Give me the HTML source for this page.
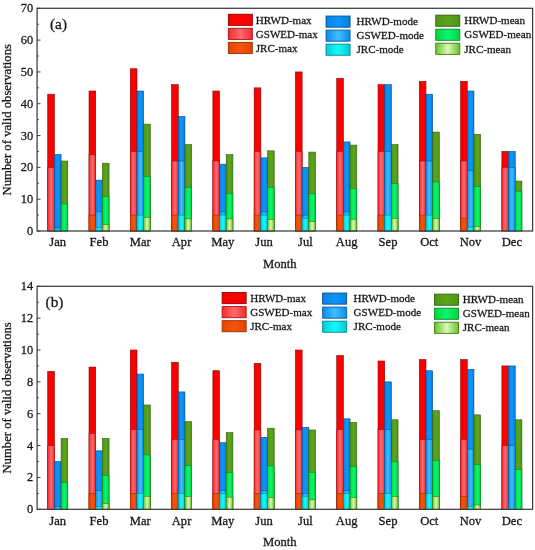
<!DOCTYPE html>
<html><head><meta charset="utf-8"><title>Number of valid observations by month</title>
<style>
html,body{margin:0;padding:0;background:#fff;}
svg{display:block;font-family:"Liberation Serif","Times New Roman",serif;}
text{fill:#161616;stroke:#161616;stroke-width:0.27px;}
</style></head><body>
<svg width="535" height="550" viewBox="0 0 535 550">
<rect x="0" y="0" width="535" height="550" fill="#ffffff"/>
<defs>
<linearGradient id="c0" x1="0" x2="1" y1="0" y2="0"><stop offset="0" stop-color="#f80000"/><stop offset="0.5" stop-color="#ff0000"/><stop offset="1" stop-color="#f80000"/></linearGradient>
<linearGradient id="c1" x1="0" x2="1" y1="0" y2="0"><stop offset="0" stop-color="#f62a2a"/><stop offset="0.5" stop-color="#ff6a70"/><stop offset="1" stop-color="#f62a2a"/></linearGradient>
<linearGradient id="c2" x1="0" x2="1" y1="0" y2="0"><stop offset="0" stop-color="#e44400"/><stop offset="0.5" stop-color="#f4540c"/><stop offset="1" stop-color="#e44400"/></linearGradient>
<linearGradient id="c3" x1="0" x2="1" y1="0" y2="0"><stop offset="0" stop-color="#0880e4"/><stop offset="0.5" stop-color="#0c98f8"/><stop offset="1" stop-color="#0880e4"/></linearGradient>
<linearGradient id="c4" x1="0" x2="1" y1="0" y2="0"><stop offset="0" stop-color="#0e8cea"/><stop offset="0.5" stop-color="#3cc0ff"/><stop offset="1" stop-color="#0e8cea"/></linearGradient>
<linearGradient id="c5" x1="0" x2="1" y1="0" y2="0"><stop offset="0" stop-color="#00ccd4"/><stop offset="0.5" stop-color="#18f8ff"/><stop offset="1" stop-color="#00ccd4"/></linearGradient>
<linearGradient id="c6" x1="0" x2="1" y1="0" y2="0"><stop offset="0" stop-color="#4e9414"/><stop offset="0.5" stop-color="#5ca61a"/><stop offset="1" stop-color="#4e9414"/></linearGradient>
<linearGradient id="c7" x1="0" x2="1" y1="0" y2="0"><stop offset="0" stop-color="#08d43c"/><stop offset="0.5" stop-color="#08f870"/><stop offset="1" stop-color="#08d43c"/></linearGradient>
<linearGradient id="c8" x1="0" x2="1" y1="0" y2="0"><stop offset="0" stop-color="#68c428"/><stop offset="0.5" stop-color="#dcf8b8"/><stop offset="1" stop-color="#68c428"/></linearGradient>
</defs>
<g>
<rect x="47.73" y="94.20" width="6.68" height="136.80" fill="url(#c0)" stroke="#8c0000" stroke-width="0.6"/>
<rect x="47.73" y="167.37" width="6.68" height="63.63" fill="url(#c1)" stroke="#a81010" stroke-width="0.6"/>
<rect x="54.41" y="154.65" width="6.68" height="76.35" fill="url(#c3)" stroke="#084a94" stroke-width="0.6"/>
<rect x="54.41" y="227.50" width="6.68" height="3.50" fill="url(#c4)" stroke="#0c589c" stroke-width="0.6"/>
<rect x="54.41" y="229.09" width="6.68" height="1.91" fill="url(#c5)" stroke="#008890" stroke-width="0.6"/>
<rect x="61.09" y="161.01" width="6.68" height="69.99" fill="url(#c6)" stroke="#30600c" stroke-width="0.6"/>
<rect x="61.09" y="203.96" width="6.68" height="27.04" fill="url(#c7)" stroke="#0c8828" stroke-width="0.6"/>
<rect x="89.02" y="91.02" width="6.68" height="139.98" fill="url(#c0)" stroke="#8c0000" stroke-width="0.6"/>
<rect x="89.02" y="154.65" width="6.68" height="76.35" fill="url(#c1)" stroke="#a81010" stroke-width="0.6"/>
<rect x="89.02" y="215.09" width="6.68" height="15.91" fill="url(#c2)" stroke="#943000" stroke-width="0.6"/>
<rect x="95.69" y="180.10" width="6.68" height="50.90" fill="url(#c3)" stroke="#084a94" stroke-width="0.6"/>
<rect x="95.69" y="211.91" width="6.68" height="19.09" fill="url(#c4)" stroke="#0c589c" stroke-width="0.6"/>
<rect x="95.69" y="227.82" width="6.68" height="3.18" fill="url(#c5)" stroke="#008890" stroke-width="0.6"/>
<rect x="102.38" y="163.24" width="6.68" height="67.76" fill="url(#c6)" stroke="#30600c" stroke-width="0.6"/>
<rect x="102.38" y="196.64" width="6.68" height="34.36" fill="url(#c7)" stroke="#0c8828" stroke-width="0.6"/>
<rect x="102.38" y="224.64" width="6.68" height="6.36" fill="url(#c8)" stroke="#3c7c10" stroke-width="0.6"/>
<rect x="130.30" y="68.75" width="6.68" height="162.25" fill="url(#c0)" stroke="#8c0000" stroke-width="0.6"/>
<rect x="130.30" y="151.46" width="6.68" height="79.54" fill="url(#c1)" stroke="#a81010" stroke-width="0.6"/>
<rect x="130.30" y="215.09" width="6.68" height="15.91" fill="url(#c2)" stroke="#943000" stroke-width="0.6"/>
<rect x="136.98" y="91.02" width="6.68" height="139.98" fill="url(#c3)" stroke="#084a94" stroke-width="0.6"/>
<rect x="136.98" y="151.46" width="6.68" height="79.54" fill="url(#c4)" stroke="#0c589c" stroke-width="0.6"/>
<rect x="136.98" y="215.09" width="6.68" height="15.91" fill="url(#c5)" stroke="#008890" stroke-width="0.6"/>
<rect x="143.66" y="124.10" width="6.68" height="106.90" fill="url(#c6)" stroke="#30600c" stroke-width="0.6"/>
<rect x="143.66" y="176.60" width="6.68" height="54.40" fill="url(#c7)" stroke="#0c8828" stroke-width="0.6"/>
<rect x="143.66" y="217.64" width="6.68" height="13.36" fill="url(#c8)" stroke="#3c7c10" stroke-width="0.6"/>
<rect x="171.58" y="84.65" width="6.68" height="146.35" fill="url(#c0)" stroke="#8c0000" stroke-width="0.6"/>
<rect x="171.58" y="161.01" width="6.68" height="69.99" fill="url(#c1)" stroke="#a81010" stroke-width="0.6"/>
<rect x="171.58" y="215.09" width="6.68" height="15.91" fill="url(#c2)" stroke="#943000" stroke-width="0.6"/>
<rect x="178.26" y="116.47" width="6.68" height="114.53" fill="url(#c3)" stroke="#084a94" stroke-width="0.6"/>
<rect x="178.26" y="161.01" width="6.68" height="69.99" fill="url(#c4)" stroke="#0c589c" stroke-width="0.6"/>
<rect x="178.26" y="215.09" width="6.68" height="15.91" fill="url(#c5)" stroke="#008890" stroke-width="0.6"/>
<rect x="184.94" y="144.47" width="6.68" height="86.53" fill="url(#c6)" stroke="#30600c" stroke-width="0.6"/>
<rect x="184.94" y="187.41" width="6.68" height="43.59" fill="url(#c7)" stroke="#0c8828" stroke-width="0.6"/>
<rect x="184.94" y="218.91" width="6.68" height="12.09" fill="url(#c8)" stroke="#3c7c10" stroke-width="0.6"/>
<rect x="212.87" y="91.02" width="6.68" height="139.98" fill="url(#c0)" stroke="#8c0000" stroke-width="0.6"/>
<rect x="212.87" y="161.01" width="6.68" height="69.99" fill="url(#c1)" stroke="#a81010" stroke-width="0.6"/>
<rect x="212.87" y="215.09" width="6.68" height="15.91" fill="url(#c2)" stroke="#943000" stroke-width="0.6"/>
<rect x="219.55" y="164.19" width="6.68" height="66.81" fill="url(#c3)" stroke="#084a94" stroke-width="0.6"/>
<rect x="219.55" y="211.91" width="6.68" height="19.09" fill="url(#c4)" stroke="#0c589c" stroke-width="0.6"/>
<rect x="219.55" y="215.09" width="6.68" height="15.91" fill="url(#c5)" stroke="#008890" stroke-width="0.6"/>
<rect x="226.23" y="154.65" width="6.68" height="76.35" fill="url(#c6)" stroke="#30600c" stroke-width="0.6"/>
<rect x="226.23" y="193.78" width="6.68" height="37.22" fill="url(#c7)" stroke="#0c8828" stroke-width="0.6"/>
<rect x="226.23" y="218.91" width="6.68" height="12.09" fill="url(#c8)" stroke="#3c7c10" stroke-width="0.6"/>
<rect x="254.15" y="87.84" width="6.68" height="143.16" fill="url(#c0)" stroke="#8c0000" stroke-width="0.6"/>
<rect x="254.15" y="151.46" width="6.68" height="79.54" fill="url(#c1)" stroke="#a81010" stroke-width="0.6"/>
<rect x="254.15" y="215.09" width="6.68" height="15.91" fill="url(#c2)" stroke="#943000" stroke-width="0.6"/>
<rect x="260.83" y="157.83" width="6.68" height="73.17" fill="url(#c3)" stroke="#084a94" stroke-width="0.6"/>
<rect x="260.83" y="211.91" width="6.68" height="19.09" fill="url(#c4)" stroke="#0c589c" stroke-width="0.6"/>
<rect x="260.83" y="215.09" width="6.68" height="15.91" fill="url(#c5)" stroke="#008890" stroke-width="0.6"/>
<rect x="267.51" y="150.83" width="6.68" height="80.17" fill="url(#c6)" stroke="#30600c" stroke-width="0.6"/>
<rect x="267.51" y="187.41" width="6.68" height="43.59" fill="url(#c7)" stroke="#0c8828" stroke-width="0.6"/>
<rect x="267.51" y="219.55" width="6.68" height="11.45" fill="url(#c8)" stroke="#3c7c10" stroke-width="0.6"/>
<rect x="295.44" y="71.93" width="6.68" height="159.07" fill="url(#c0)" stroke="#8c0000" stroke-width="0.6"/>
<rect x="295.44" y="151.46" width="6.68" height="79.54" fill="url(#c1)" stroke="#a81010" stroke-width="0.6"/>
<rect x="295.44" y="215.09" width="6.68" height="15.91" fill="url(#c2)" stroke="#943000" stroke-width="0.6"/>
<rect x="302.12" y="167.37" width="6.68" height="63.63" fill="url(#c3)" stroke="#084a94" stroke-width="0.6"/>
<rect x="302.12" y="215.09" width="6.68" height="15.91" fill="url(#c4)" stroke="#0c589c" stroke-width="0.6"/>
<rect x="302.12" y="218.27" width="6.68" height="12.73" fill="url(#c5)" stroke="#008890" stroke-width="0.6"/>
<rect x="308.80" y="152.10" width="6.68" height="78.90" fill="url(#c6)" stroke="#30600c" stroke-width="0.6"/>
<rect x="308.80" y="193.78" width="6.68" height="37.22" fill="url(#c7)" stroke="#0c8828" stroke-width="0.6"/>
<rect x="308.80" y="221.46" width="6.68" height="9.54" fill="url(#c8)" stroke="#3c7c10" stroke-width="0.6"/>
<rect x="336.73" y="78.29" width="6.68" height="152.71" fill="url(#c0)" stroke="#8c0000" stroke-width="0.6"/>
<rect x="336.73" y="151.46" width="6.68" height="79.54" fill="url(#c1)" stroke="#a81010" stroke-width="0.6"/>
<rect x="336.73" y="215.09" width="6.68" height="15.91" fill="url(#c2)" stroke="#943000" stroke-width="0.6"/>
<rect x="343.41" y="141.92" width="6.68" height="89.08" fill="url(#c3)" stroke="#084a94" stroke-width="0.6"/>
<rect x="343.41" y="211.91" width="6.68" height="19.09" fill="url(#c4)" stroke="#0c589c" stroke-width="0.6"/>
<rect x="343.41" y="215.09" width="6.68" height="15.91" fill="url(#c5)" stroke="#008890" stroke-width="0.6"/>
<rect x="350.09" y="145.10" width="6.68" height="85.90" fill="url(#c6)" stroke="#30600c" stroke-width="0.6"/>
<rect x="350.09" y="188.37" width="6.68" height="42.63" fill="url(#c7)" stroke="#0c8828" stroke-width="0.6"/>
<rect x="350.09" y="219.23" width="6.68" height="11.77" fill="url(#c8)" stroke="#3c7c10" stroke-width="0.6"/>
<rect x="378.01" y="84.65" width="6.68" height="146.35" fill="url(#c0)" stroke="#8c0000" stroke-width="0.6"/>
<rect x="378.01" y="151.46" width="6.68" height="79.54" fill="url(#c1)" stroke="#a81010" stroke-width="0.6"/>
<rect x="378.01" y="215.09" width="6.68" height="15.91" fill="url(#c2)" stroke="#943000" stroke-width="0.6"/>
<rect x="384.69" y="84.65" width="6.68" height="146.35" fill="url(#c3)" stroke="#084a94" stroke-width="0.6"/>
<rect x="384.69" y="151.46" width="6.68" height="79.54" fill="url(#c4)" stroke="#0c589c" stroke-width="0.6"/>
<rect x="384.69" y="215.09" width="6.68" height="15.91" fill="url(#c5)" stroke="#008890" stroke-width="0.6"/>
<rect x="391.37" y="144.47" width="6.68" height="86.53" fill="url(#c6)" stroke="#30600c" stroke-width="0.6"/>
<rect x="391.37" y="183.60" width="6.68" height="47.40" fill="url(#c7)" stroke="#0c8828" stroke-width="0.6"/>
<rect x="391.37" y="218.27" width="6.68" height="12.73" fill="url(#c8)" stroke="#3c7c10" stroke-width="0.6"/>
<rect x="419.29" y="81.47" width="6.68" height="149.53" fill="url(#c0)" stroke="#8c0000" stroke-width="0.6"/>
<rect x="419.29" y="161.01" width="6.68" height="69.99" fill="url(#c1)" stroke="#a81010" stroke-width="0.6"/>
<rect x="419.29" y="215.09" width="6.68" height="15.91" fill="url(#c2)" stroke="#943000" stroke-width="0.6"/>
<rect x="425.97" y="94.20" width="6.68" height="136.80" fill="url(#c3)" stroke="#084a94" stroke-width="0.6"/>
<rect x="425.97" y="161.01" width="6.68" height="69.99" fill="url(#c4)" stroke="#0c589c" stroke-width="0.6"/>
<rect x="425.97" y="215.09" width="6.68" height="15.91" fill="url(#c5)" stroke="#008890" stroke-width="0.6"/>
<rect x="432.65" y="132.06" width="6.68" height="98.94" fill="url(#c6)" stroke="#30600c" stroke-width="0.6"/>
<rect x="432.65" y="182.01" width="6.68" height="48.99" fill="url(#c7)" stroke="#0c8828" stroke-width="0.6"/>
<rect x="432.65" y="218.27" width="6.68" height="12.73" fill="url(#c8)" stroke="#3c7c10" stroke-width="0.6"/>
<rect x="460.58" y="81.47" width="6.68" height="149.53" fill="url(#c0)" stroke="#8c0000" stroke-width="0.6"/>
<rect x="460.58" y="161.01" width="6.68" height="69.99" fill="url(#c1)" stroke="#a81010" stroke-width="0.6"/>
<rect x="460.58" y="218.27" width="6.68" height="12.73" fill="url(#c2)" stroke="#943000" stroke-width="0.6"/>
<rect x="467.26" y="91.02" width="6.68" height="139.98" fill="url(#c3)" stroke="#084a94" stroke-width="0.6"/>
<rect x="467.26" y="170.55" width="6.68" height="60.45" fill="url(#c4)" stroke="#0c589c" stroke-width="0.6"/>
<rect x="467.26" y="227.18" width="6.68" height="3.82" fill="url(#c5)" stroke="#008890" stroke-width="0.6"/>
<rect x="473.94" y="134.28" width="6.68" height="96.72" fill="url(#c6)" stroke="#30600c" stroke-width="0.6"/>
<rect x="473.94" y="186.46" width="6.68" height="44.54" fill="url(#c7)" stroke="#0c8828" stroke-width="0.6"/>
<rect x="473.94" y="226.55" width="6.68" height="4.45" fill="url(#c8)" stroke="#3c7c10" stroke-width="0.6"/>
<rect x="501.87" y="151.46" width="6.68" height="79.54" fill="url(#c0)" stroke="#8c0000" stroke-width="0.6"/>
<rect x="501.87" y="167.37" width="6.68" height="63.63" fill="url(#c1)" stroke="#a81010" stroke-width="0.6"/>
<rect x="508.55" y="151.46" width="6.68" height="79.54" fill="url(#c3)" stroke="#084a94" stroke-width="0.6"/>
<rect x="508.55" y="167.37" width="6.68" height="63.63" fill="url(#c4)" stroke="#0c589c" stroke-width="0.6"/>
<rect x="515.23" y="181.05" width="6.68" height="49.95" fill="url(#c6)" stroke="#30600c" stroke-width="0.6"/>
<rect x="515.23" y="191.23" width="6.68" height="39.77" fill="url(#c7)" stroke="#0c8828" stroke-width="0.6"/>
<rect x="37.1" y="8.3" width="495.5" height="222.7" fill="none" stroke="#3c3c3c" stroke-width="1.25"/>
<line x1="37.1" x2="40.5" y1="231.00" y2="231.00" stroke="#333" stroke-width="0.95"/>
<text transform="translate(33.2,235.00) scale(1,1.04)" text-anchor="end" font-size="12.4">0</text>
<line x1="37.1" x2="40.5" y1="199.19" y2="199.19" stroke="#333" stroke-width="0.95"/>
<text transform="translate(33.2,203.19) scale(1,1.04)" text-anchor="end" font-size="12.4">10</text>
<line x1="37.1" x2="40.5" y1="167.37" y2="167.37" stroke="#333" stroke-width="0.95"/>
<text transform="translate(33.2,171.37) scale(1,1.04)" text-anchor="end" font-size="12.4">20</text>
<line x1="37.1" x2="40.5" y1="135.56" y2="135.56" stroke="#333" stroke-width="0.95"/>
<text transform="translate(33.2,139.56) scale(1,1.04)" text-anchor="end" font-size="12.4">30</text>
<line x1="37.1" x2="40.5" y1="103.74" y2="103.74" stroke="#333" stroke-width="0.95"/>
<text transform="translate(33.2,107.74) scale(1,1.04)" text-anchor="end" font-size="12.4">40</text>
<line x1="37.1" x2="40.5" y1="71.93" y2="71.93" stroke="#333" stroke-width="0.95"/>
<text transform="translate(33.2,75.93) scale(1,1.04)" text-anchor="end" font-size="12.4">50</text>
<line x1="37.1" x2="40.5" y1="40.11" y2="40.11" stroke="#333" stroke-width="0.95"/>
<text transform="translate(33.2,44.11) scale(1,1.04)" text-anchor="end" font-size="12.4">60</text>
<line x1="37.1" x2="40.5" y1="8.30" y2="8.30" stroke="#333" stroke-width="0.95"/>
<text transform="translate(33.2,12.30) scale(1,1.04)" text-anchor="end" font-size="12.4">70</text>
<line x1="37.1" x2="39.0" y1="215.09" y2="215.09" stroke="#333" stroke-width="0.85"/>
<line x1="37.1" x2="39.0" y1="183.28" y2="183.28" stroke="#333" stroke-width="0.85"/>
<line x1="37.1" x2="39.0" y1="151.46" y2="151.46" stroke="#333" stroke-width="0.85"/>
<line x1="37.1" x2="39.0" y1="119.65" y2="119.65" stroke="#333" stroke-width="0.85"/>
<line x1="37.1" x2="39.0" y1="87.84" y2="87.84" stroke="#333" stroke-width="0.85"/>
<line x1="37.1" x2="39.0" y1="56.02" y2="56.02" stroke="#333" stroke-width="0.85"/>
<line x1="37.1" x2="39.0" y1="24.21" y2="24.21" stroke="#333" stroke-width="0.85"/>
<text transform="translate(57.70,246.20) scale(1,1.06)" text-anchor="middle" font-size="12.6">Jan</text>
<text transform="translate(98.98,246.20) scale(1,1.06)" text-anchor="middle" font-size="12.6">Feb</text>
<text transform="translate(140.27,246.20) scale(1,1.06)" text-anchor="middle" font-size="12.6">Mar</text>
<text transform="translate(181.56,246.20) scale(1,1.06)" text-anchor="middle" font-size="12.6">Apr</text>
<text transform="translate(222.84,246.20) scale(1,1.06)" text-anchor="middle" font-size="12.6">May</text>
<text transform="translate(264.12,246.20) scale(1,1.06)" text-anchor="middle" font-size="12.6">Jun</text>
<text transform="translate(305.41,246.20) scale(1,1.06)" text-anchor="middle" font-size="12.6">Jul</text>
<text transform="translate(346.69,246.20) scale(1,1.06)" text-anchor="middle" font-size="12.6">Aug</text>
<text transform="translate(387.98,246.20) scale(1,1.06)" text-anchor="middle" font-size="12.6">Sep</text>
<text transform="translate(429.26,246.20) scale(1,1.06)" text-anchor="middle" font-size="12.6">Oct</text>
<text transform="translate(470.55,246.20) scale(1,1.06)" text-anchor="middle" font-size="12.6">Nov</text>
<text transform="translate(511.83,246.20) scale(1,1.06)" text-anchor="middle" font-size="12.6">Dec</text>
<text transform="translate(279.8,268.00) scale(1,1.05)" text-anchor="middle" font-size="12.6">Month</text>
<text transform="translate(10.7,119.75) rotate(-90) scale(1,1.06)" text-anchor="middle" font-size="12.72">Number of valid observations</text>
<text x="50" y="28.60" font-size="15.3">(a)</text>
<rect x="228.35" y="14.25" width="24.0" height="11.1" fill="url(#c0)" stroke="#8c0000" stroke-width="0.9"/>
<text x="255.8" y="23.60" font-size="11.05">HRWD-max</text>
<rect x="228.35" y="28.30" width="24.0" height="11.1" fill="url(#c1)" stroke="#a81010" stroke-width="0.9"/>
<text x="255.8" y="37.65" font-size="11.05">GSWED-max</text>
<rect x="228.35" y="42.35" width="24.0" height="11.1" fill="url(#c2)" stroke="#943000" stroke-width="0.9"/>
<text x="255.8" y="51.70" font-size="11.05">JRC-max</text>
<rect x="326.05" y="16.05" width="24.0" height="11.1" fill="url(#c3)" stroke="#084a94" stroke-width="0.9"/>
<text x="356.5" y="25.10" font-size="11.05">HRWD-mode</text>
<rect x="326.05" y="30.10" width="24.0" height="11.1" fill="url(#c4)" stroke="#0c589c" stroke-width="0.9"/>
<text x="356.5" y="39.15" font-size="11.05">GSWED-mode</text>
<rect x="326.05" y="44.15" width="24.0" height="11.1" fill="url(#c5)" stroke="#008890" stroke-width="0.9"/>
<text x="356.5" y="53.20" font-size="11.05">JRC-mode</text>
<rect x="435.75" y="15.15" width="24.0" height="11.1" fill="url(#c6)" stroke="#30600c" stroke-width="0.9"/>
<text x="464.3" y="24.40" font-size="11.05">HRWD-mean</text>
<rect x="435.75" y="29.20" width="24.0" height="11.1" fill="url(#c7)" stroke="#0c8828" stroke-width="0.9"/>
<text x="464.3" y="38.45" font-size="11.05">GSWED-mean</text>
<rect x="435.75" y="43.25" width="24.0" height="11.1" fill="url(#c8)" stroke="#3c7c10" stroke-width="0.9"/>
<text x="464.3" y="52.50" font-size="11.05">JRC-mean</text>
</g>
<g>
<rect x="47.73" y="371.36" width="6.68" height="137.94" fill="url(#c0)" stroke="#8c0000" stroke-width="0.6"/>
<rect x="47.73" y="445.59" width="6.68" height="63.71" fill="url(#c1)" stroke="#a81010" stroke-width="0.6"/>
<rect x="54.41" y="461.51" width="6.68" height="47.79" fill="url(#c3)" stroke="#084a94" stroke-width="0.6"/>
<rect x="54.41" y="506.59" width="6.68" height="2.71" fill="url(#c4)" stroke="#0c589c" stroke-width="0.6"/>
<rect x="61.09" y="438.42" width="6.68" height="70.88" fill="url(#c6)" stroke="#30600c" stroke-width="0.6"/>
<rect x="61.09" y="482.38" width="6.68" height="26.92" fill="url(#c7)" stroke="#0c8828" stroke-width="0.6"/>
<rect x="89.02" y="367.06" width="6.68" height="142.24" fill="url(#c0)" stroke="#8c0000" stroke-width="0.6"/>
<rect x="89.02" y="433.32" width="6.68" height="75.98" fill="url(#c1)" stroke="#a81010" stroke-width="0.6"/>
<rect x="89.02" y="493.37" width="6.68" height="15.93" fill="url(#c2)" stroke="#943000" stroke-width="0.6"/>
<rect x="95.69" y="450.84" width="6.68" height="58.46" fill="url(#c3)" stroke="#084a94" stroke-width="0.6"/>
<rect x="95.69" y="490.50" width="6.68" height="18.80" fill="url(#c4)" stroke="#0c589c" stroke-width="0.6"/>
<rect x="95.69" y="506.59" width="6.68" height="2.71" fill="url(#c5)" stroke="#008890" stroke-width="0.6"/>
<rect x="102.38" y="438.42" width="6.68" height="70.88" fill="url(#c6)" stroke="#30600c" stroke-width="0.6"/>
<rect x="102.38" y="475.37" width="6.68" height="33.93" fill="url(#c7)" stroke="#0c8828" stroke-width="0.6"/>
<rect x="102.38" y="503.57" width="6.68" height="5.73" fill="url(#c8)" stroke="#3c7c10" stroke-width="0.6"/>
<rect x="130.30" y="350.01" width="6.68" height="159.29" fill="url(#c0)" stroke="#8c0000" stroke-width="0.6"/>
<rect x="130.30" y="429.66" width="6.68" height="79.64" fill="url(#c1)" stroke="#a81010" stroke-width="0.6"/>
<rect x="130.30" y="493.37" width="6.68" height="15.93" fill="url(#c2)" stroke="#943000" stroke-width="0.6"/>
<rect x="136.98" y="374.07" width="6.68" height="135.23" fill="url(#c3)" stroke="#084a94" stroke-width="0.6"/>
<rect x="136.98" y="429.66" width="6.68" height="79.64" fill="url(#c4)" stroke="#0c589c" stroke-width="0.6"/>
<rect x="136.98" y="493.37" width="6.68" height="15.93" fill="url(#c5)" stroke="#008890" stroke-width="0.6"/>
<rect x="143.66" y="404.97" width="6.68" height="104.33" fill="url(#c6)" stroke="#30600c" stroke-width="0.6"/>
<rect x="143.66" y="454.82" width="6.68" height="54.48" fill="url(#c7)" stroke="#0c8828" stroke-width="0.6"/>
<rect x="143.66" y="496.24" width="6.68" height="13.06" fill="url(#c8)" stroke="#3c7c10" stroke-width="0.6"/>
<rect x="171.58" y="362.28" width="6.68" height="147.02" fill="url(#c0)" stroke="#8c0000" stroke-width="0.6"/>
<rect x="171.58" y="439.37" width="6.68" height="69.93" fill="url(#c1)" stroke="#a81010" stroke-width="0.6"/>
<rect x="171.58" y="493.37" width="6.68" height="15.93" fill="url(#c2)" stroke="#943000" stroke-width="0.6"/>
<rect x="178.26" y="391.91" width="6.68" height="117.39" fill="url(#c3)" stroke="#084a94" stroke-width="0.6"/>
<rect x="178.26" y="439.37" width="6.68" height="69.93" fill="url(#c4)" stroke="#0c589c" stroke-width="0.6"/>
<rect x="178.26" y="493.37" width="6.68" height="15.93" fill="url(#c5)" stroke="#008890" stroke-width="0.6"/>
<rect x="184.94" y="421.53" width="6.68" height="87.77" fill="url(#c6)" stroke="#30600c" stroke-width="0.6"/>
<rect x="184.94" y="465.66" width="6.68" height="43.64" fill="url(#c7)" stroke="#0c8828" stroke-width="0.6"/>
<rect x="184.94" y="496.56" width="6.68" height="12.74" fill="url(#c8)" stroke="#3c7c10" stroke-width="0.6"/>
<rect x="212.87" y="370.72" width="6.68" height="138.58" fill="url(#c0)" stroke="#8c0000" stroke-width="0.6"/>
<rect x="212.87" y="439.37" width="6.68" height="69.93" fill="url(#c1)" stroke="#a81010" stroke-width="0.6"/>
<rect x="212.87" y="493.37" width="6.68" height="15.93" fill="url(#c2)" stroke="#943000" stroke-width="0.6"/>
<rect x="219.55" y="442.72" width="6.68" height="66.58" fill="url(#c3)" stroke="#084a94" stroke-width="0.6"/>
<rect x="219.55" y="490.50" width="6.68" height="18.80" fill="url(#c4)" stroke="#0c589c" stroke-width="0.6"/>
<rect x="219.55" y="493.37" width="6.68" height="15.93" fill="url(#c5)" stroke="#008890" stroke-width="0.6"/>
<rect x="226.23" y="432.68" width="6.68" height="76.62" fill="url(#c6)" stroke="#30600c" stroke-width="0.6"/>
<rect x="226.23" y="472.35" width="6.68" height="36.95" fill="url(#c7)" stroke="#0c8828" stroke-width="0.6"/>
<rect x="226.23" y="497.19" width="6.68" height="12.11" fill="url(#c8)" stroke="#3c7c10" stroke-width="0.6"/>
<rect x="254.15" y="363.39" width="6.68" height="145.91" fill="url(#c0)" stroke="#8c0000" stroke-width="0.6"/>
<rect x="254.15" y="429.98" width="6.68" height="79.32" fill="url(#c1)" stroke="#a81010" stroke-width="0.6"/>
<rect x="254.15" y="493.37" width="6.68" height="15.93" fill="url(#c2)" stroke="#943000" stroke-width="0.6"/>
<rect x="260.83" y="437.30" width="6.68" height="72.00" fill="url(#c3)" stroke="#084a94" stroke-width="0.6"/>
<rect x="260.83" y="490.50" width="6.68" height="18.80" fill="url(#c4)" stroke="#0c589c" stroke-width="0.6"/>
<rect x="260.83" y="493.37" width="6.68" height="15.93" fill="url(#c5)" stroke="#008890" stroke-width="0.6"/>
<rect x="267.51" y="428.22" width="6.68" height="81.08" fill="url(#c6)" stroke="#30600c" stroke-width="0.6"/>
<rect x="267.51" y="465.97" width="6.68" height="43.33" fill="url(#c7)" stroke="#0c8828" stroke-width="0.6"/>
<rect x="267.51" y="497.51" width="6.68" height="11.79" fill="url(#c8)" stroke="#3c7c10" stroke-width="0.6"/>
<rect x="295.44" y="350.01" width="6.68" height="159.29" fill="url(#c0)" stroke="#8c0000" stroke-width="0.6"/>
<rect x="295.44" y="429.98" width="6.68" height="79.32" fill="url(#c1)" stroke="#a81010" stroke-width="0.6"/>
<rect x="295.44" y="493.37" width="6.68" height="15.93" fill="url(#c2)" stroke="#943000" stroke-width="0.6"/>
<rect x="302.12" y="427.27" width="6.68" height="82.03" fill="url(#c3)" stroke="#084a94" stroke-width="0.6"/>
<rect x="302.12" y="493.37" width="6.68" height="15.93" fill="url(#c4)" stroke="#0c589c" stroke-width="0.6"/>
<rect x="302.12" y="496.24" width="6.68" height="13.06" fill="url(#c5)" stroke="#008890" stroke-width="0.6"/>
<rect x="308.80" y="429.98" width="6.68" height="79.32" fill="url(#c6)" stroke="#30600c" stroke-width="0.6"/>
<rect x="308.80" y="472.35" width="6.68" height="36.95" fill="url(#c7)" stroke="#0c8828" stroke-width="0.6"/>
<rect x="308.80" y="499.90" width="6.68" height="9.40" fill="url(#c8)" stroke="#3c7c10" stroke-width="0.6"/>
<rect x="336.73" y="355.59" width="6.68" height="153.71" fill="url(#c0)" stroke="#8c0000" stroke-width="0.6"/>
<rect x="336.73" y="429.66" width="6.68" height="79.64" fill="url(#c1)" stroke="#a81010" stroke-width="0.6"/>
<rect x="336.73" y="493.37" width="6.68" height="15.93" fill="url(#c2)" stroke="#943000" stroke-width="0.6"/>
<rect x="343.41" y="418.83" width="6.68" height="90.47" fill="url(#c3)" stroke="#084a94" stroke-width="0.6"/>
<rect x="343.41" y="490.50" width="6.68" height="18.80" fill="url(#c4)" stroke="#0c589c" stroke-width="0.6"/>
<rect x="343.41" y="493.37" width="6.68" height="15.93" fill="url(#c5)" stroke="#008890" stroke-width="0.6"/>
<rect x="350.09" y="422.49" width="6.68" height="86.81" fill="url(#c6)" stroke="#30600c" stroke-width="0.6"/>
<rect x="350.09" y="466.61" width="6.68" height="42.69" fill="url(#c7)" stroke="#0c8828" stroke-width="0.6"/>
<rect x="350.09" y="497.51" width="6.68" height="11.79" fill="url(#c8)" stroke="#3c7c10" stroke-width="0.6"/>
<rect x="378.01" y="361.00" width="6.68" height="148.30" fill="url(#c0)" stroke="#8c0000" stroke-width="0.6"/>
<rect x="378.01" y="429.66" width="6.68" height="79.64" fill="url(#c1)" stroke="#a81010" stroke-width="0.6"/>
<rect x="378.01" y="493.37" width="6.68" height="15.93" fill="url(#c2)" stroke="#943000" stroke-width="0.6"/>
<rect x="384.69" y="381.87" width="6.68" height="127.43" fill="url(#c3)" stroke="#084a94" stroke-width="0.6"/>
<rect x="384.69" y="429.66" width="6.68" height="79.64" fill="url(#c4)" stroke="#0c589c" stroke-width="0.6"/>
<rect x="384.69" y="493.37" width="6.68" height="15.93" fill="url(#c5)" stroke="#008890" stroke-width="0.6"/>
<rect x="391.37" y="419.78" width="6.68" height="89.52" fill="url(#c6)" stroke="#30600c" stroke-width="0.6"/>
<rect x="391.37" y="461.83" width="6.68" height="47.47" fill="url(#c7)" stroke="#0c8828" stroke-width="0.6"/>
<rect x="391.37" y="496.56" width="6.68" height="12.74" fill="url(#c8)" stroke="#3c7c10" stroke-width="0.6"/>
<rect x="419.29" y="359.57" width="6.68" height="149.73" fill="url(#c0)" stroke="#8c0000" stroke-width="0.6"/>
<rect x="419.29" y="439.37" width="6.68" height="69.93" fill="url(#c1)" stroke="#a81010" stroke-width="0.6"/>
<rect x="419.29" y="493.37" width="6.68" height="15.93" fill="url(#c2)" stroke="#943000" stroke-width="0.6"/>
<rect x="425.97" y="370.72" width="6.68" height="138.58" fill="url(#c3)" stroke="#084a94" stroke-width="0.6"/>
<rect x="425.97" y="439.37" width="6.68" height="69.93" fill="url(#c4)" stroke="#0c589c" stroke-width="0.6"/>
<rect x="425.97" y="493.37" width="6.68" height="15.93" fill="url(#c5)" stroke="#008890" stroke-width="0.6"/>
<rect x="432.65" y="410.70" width="6.68" height="98.60" fill="url(#c6)" stroke="#30600c" stroke-width="0.6"/>
<rect x="432.65" y="460.56" width="6.68" height="48.74" fill="url(#c7)" stroke="#0c8828" stroke-width="0.6"/>
<rect x="432.65" y="496.56" width="6.68" height="12.74" fill="url(#c8)" stroke="#3c7c10" stroke-width="0.6"/>
<rect x="460.58" y="359.57" width="6.68" height="149.73" fill="url(#c0)" stroke="#8c0000" stroke-width="0.6"/>
<rect x="460.58" y="439.37" width="6.68" height="69.93" fill="url(#c1)" stroke="#a81010" stroke-width="0.6"/>
<rect x="460.58" y="496.56" width="6.68" height="12.74" fill="url(#c2)" stroke="#943000" stroke-width="0.6"/>
<rect x="467.26" y="369.45" width="6.68" height="139.85" fill="url(#c3)" stroke="#084a94" stroke-width="0.6"/>
<rect x="467.26" y="449.09" width="6.68" height="60.21" fill="url(#c4)" stroke="#0c589c" stroke-width="0.6"/>
<rect x="467.26" y="506.27" width="6.68" height="3.03" fill="url(#c5)" stroke="#008890" stroke-width="0.6"/>
<rect x="473.94" y="414.84" width="6.68" height="94.46" fill="url(#c6)" stroke="#30600c" stroke-width="0.6"/>
<rect x="473.94" y="464.54" width="6.68" height="44.76" fill="url(#c7)" stroke="#0c8828" stroke-width="0.6"/>
<rect x="473.94" y="505.00" width="6.68" height="4.30" fill="url(#c8)" stroke="#3c7c10" stroke-width="0.6"/>
<rect x="501.87" y="365.94" width="6.68" height="143.36" fill="url(#c0)" stroke="#8c0000" stroke-width="0.6"/>
<rect x="501.87" y="445.59" width="6.68" height="63.71" fill="url(#c1)" stroke="#a81010" stroke-width="0.6"/>
<rect x="508.55" y="365.94" width="6.68" height="143.36" fill="url(#c3)" stroke="#084a94" stroke-width="0.6"/>
<rect x="508.55" y="445.59" width="6.68" height="63.71" fill="url(#c4)" stroke="#0c589c" stroke-width="0.6"/>
<rect x="515.23" y="419.78" width="6.68" height="89.52" fill="url(#c6)" stroke="#30600c" stroke-width="0.6"/>
<rect x="515.23" y="469.64" width="6.68" height="39.66" fill="url(#c7)" stroke="#0c8828" stroke-width="0.6"/>
<rect x="37.1" y="286.3" width="495.5" height="223.0" fill="none" stroke="#3c3c3c" stroke-width="1.25"/>
<line x1="37.1" x2="40.5" y1="509.30" y2="509.30" stroke="#333" stroke-width="0.95"/>
<text transform="translate(33.2,513.30) scale(1,1.04)" text-anchor="end" font-size="12.4">0</text>
<line x1="37.1" x2="40.5" y1="477.44" y2="477.44" stroke="#333" stroke-width="0.95"/>
<text transform="translate(33.2,481.44) scale(1,1.04)" text-anchor="end" font-size="12.4">2</text>
<line x1="37.1" x2="40.5" y1="445.59" y2="445.59" stroke="#333" stroke-width="0.95"/>
<text transform="translate(33.2,449.59) scale(1,1.04)" text-anchor="end" font-size="12.4">4</text>
<line x1="37.1" x2="40.5" y1="413.73" y2="413.73" stroke="#333" stroke-width="0.95"/>
<text transform="translate(33.2,417.73) scale(1,1.04)" text-anchor="end" font-size="12.4">6</text>
<line x1="37.1" x2="40.5" y1="381.87" y2="381.87" stroke="#333" stroke-width="0.95"/>
<text transform="translate(33.2,385.87) scale(1,1.04)" text-anchor="end" font-size="12.4">8</text>
<line x1="37.1" x2="40.5" y1="350.01" y2="350.01" stroke="#333" stroke-width="0.95"/>
<text transform="translate(33.2,354.01) scale(1,1.04)" text-anchor="end" font-size="12.4">10</text>
<line x1="37.1" x2="40.5" y1="318.16" y2="318.16" stroke="#333" stroke-width="0.95"/>
<text transform="translate(33.2,322.16) scale(1,1.04)" text-anchor="end" font-size="12.4">12</text>
<line x1="37.1" x2="40.5" y1="286.30" y2="286.30" stroke="#333" stroke-width="0.95"/>
<text transform="translate(33.2,290.30) scale(1,1.04)" text-anchor="end" font-size="12.4">14</text>
<line x1="37.1" x2="39.0" y1="493.37" y2="493.37" stroke="#333" stroke-width="0.85"/>
<line x1="37.1" x2="39.0" y1="461.51" y2="461.51" stroke="#333" stroke-width="0.85"/>
<line x1="37.1" x2="39.0" y1="429.66" y2="429.66" stroke="#333" stroke-width="0.85"/>
<line x1="37.1" x2="39.0" y1="397.80" y2="397.80" stroke="#333" stroke-width="0.85"/>
<line x1="37.1" x2="39.0" y1="365.94" y2="365.94" stroke="#333" stroke-width="0.85"/>
<line x1="37.1" x2="39.0" y1="334.09" y2="334.09" stroke="#333" stroke-width="0.85"/>
<line x1="37.1" x2="39.0" y1="302.23" y2="302.23" stroke="#333" stroke-width="0.85"/>
<text transform="translate(57.70,524.50) scale(1,1.06)" text-anchor="middle" font-size="12.6">Jan</text>
<text transform="translate(98.98,524.50) scale(1,1.06)" text-anchor="middle" font-size="12.6">Feb</text>
<text transform="translate(140.27,524.50) scale(1,1.06)" text-anchor="middle" font-size="12.6">Mar</text>
<text transform="translate(181.56,524.50) scale(1,1.06)" text-anchor="middle" font-size="12.6">Apr</text>
<text transform="translate(222.84,524.50) scale(1,1.06)" text-anchor="middle" font-size="12.6">May</text>
<text transform="translate(264.12,524.50) scale(1,1.06)" text-anchor="middle" font-size="12.6">Jun</text>
<text transform="translate(305.41,524.50) scale(1,1.06)" text-anchor="middle" font-size="12.6">Jul</text>
<text transform="translate(346.69,524.50) scale(1,1.06)" text-anchor="middle" font-size="12.6">Aug</text>
<text transform="translate(387.98,524.50) scale(1,1.06)" text-anchor="middle" font-size="12.6">Sep</text>
<text transform="translate(429.26,524.50) scale(1,1.06)" text-anchor="middle" font-size="12.6">Oct</text>
<text transform="translate(470.55,524.50) scale(1,1.06)" text-anchor="middle" font-size="12.6">Nov</text>
<text transform="translate(511.83,524.50) scale(1,1.06)" text-anchor="middle" font-size="12.6">Dec</text>
<text transform="translate(279.8,546.30) scale(1,1.05)" text-anchor="middle" font-size="12.6">Month</text>
<text transform="translate(10.7,397.90) rotate(-90) scale(1,1.06)" text-anchor="middle" font-size="12.72">Number of valid observations</text>
<text x="45.6" y="306.60" font-size="15.3">(b)</text>
<rect x="222.15" y="292.55" width="24.0" height="11.1" fill="url(#c0)" stroke="#8c0000" stroke-width="0.9"/>
<text x="250.2" y="301.60" font-size="11.05">HRWD-max</text>
<rect x="222.15" y="306.60" width="24.0" height="11.1" fill="url(#c1)" stroke="#a81010" stroke-width="0.9"/>
<text x="250.2" y="315.65" font-size="11.05">GSWED-max</text>
<rect x="222.15" y="320.65" width="24.0" height="11.1" fill="url(#c2)" stroke="#943000" stroke-width="0.9"/>
<text x="250.2" y="329.70" font-size="11.05">JRC-max</text>
<rect x="322.65" y="293.05" width="24.0" height="11.1" fill="url(#c3)" stroke="#084a94" stroke-width="0.9"/>
<text x="353.6" y="301.70" font-size="11.05">HRWD-mode</text>
<rect x="322.65" y="307.10" width="24.0" height="11.1" fill="url(#c4)" stroke="#0c589c" stroke-width="0.9"/>
<text x="353.6" y="315.75" font-size="11.05">GSWED-mode</text>
<rect x="322.65" y="321.15" width="24.0" height="11.1" fill="url(#c5)" stroke="#008890" stroke-width="0.9"/>
<text x="353.6" y="329.80" font-size="11.05">JRC-mode</text>
<rect x="434.55" y="294.15" width="24.0" height="11.1" fill="url(#c6)" stroke="#30600c" stroke-width="0.9"/>
<text x="462.8" y="302.80" font-size="11.05">HRWD-mean</text>
<rect x="434.55" y="308.20" width="24.0" height="11.1" fill="url(#c7)" stroke="#0c8828" stroke-width="0.9"/>
<text x="462.8" y="316.85" font-size="11.05">GSWED-mean</text>
<rect x="434.55" y="322.25" width="24.0" height="11.1" fill="url(#c8)" stroke="#3c7c10" stroke-width="0.9"/>
<text x="462.8" y="330.90" font-size="11.05">JRC-mean</text>
</g>
</svg>
</body></html>
